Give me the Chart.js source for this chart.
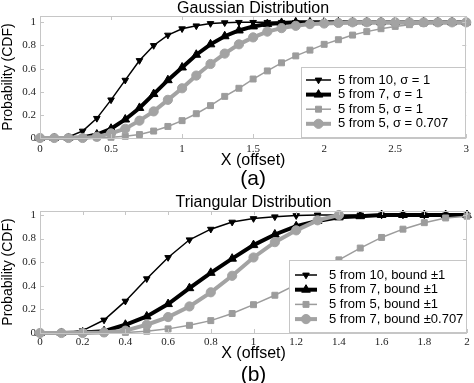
<!DOCTYPE html>
<html><head><meta charset="utf-8">
<script src="https://cdn.jsdelivr.net/npm/chart.js@4.4.0/dist/chart.umd.min.js"></script>
<style>
html,body{margin:0;padding:0;background:#fff;overflow:hidden;width:474px;height:383px;}
#wa{position:absolute;left:0;top:0;width:474px;height:190px;}
#wb{position:absolute;left:0;top:190px;width:474px;height:196px;}
</style></head><body>
<div id="wa"><canvas id="ca"></canvas></div>
<div id="wb"><canvas id="cb"></canvas></div>
<script>
// ---------- Data: (a) Gaussian ----------
const gaussX = [0,0.1,0.2,0.3,0.4,0.5,0.6,0.7,0.8,0.9,1.0,1.1,1.2,1.3,1.4,1.5,1.6,1.7,1.8,1.9,2.0,2.1,2.2,2.3,2.4,2.5,2.6,2.7,2.8,2.9,3.0];
const gauss10of = [0,0,0.01,0.06,0.17,0.33,0.50,0.67,0.80,0.89,0.945,0.97,0.99,0.997,1,1,1,1,1,1,1,1,1,1,1,1,1,1,1,1,1];
const gauss7of  = [0,0,0,0.005,0.03,0.08,0.16,0.26,0.38,0.50,0.61,0.72,0.81,0.88,0.93,0.965,0.985,0.995,1,1,1,1,1,1,1,1,1,1,1,1,1];
const gauss5of  = [0,0,0,0,0.003,0.006,0.015,0.03,0.06,0.10,0.15,0.21,0.28,0.36,0.43,0.51,0.58,0.65,0.71,0.76,0.81,0.85,0.89,0.92,0.945,0.965,0.98,0.99,0.995,1,1];
const gauss5ofB = [0,0,0,0,0.01,0.04,0.08,0.15,0.23,0.33,0.43,0.54,0.64,0.73,0.81,0.87,0.92,0.95,0.97,0.985,0.99,0.995,1,1,1,1,1,1,1,1,1];
const gaussLabels = ['5 from 10, \u03c3 = 1','5 from 7, \u03c3 = 1','5 from 5, \u03c3 = 1','5 from 5, \u03c3 = 0.707'];
const gaussXTicks = [0,0.5,1,1.5,2,2.5,3];
const gaussXTickLabels = ['0','0.5','1','1.5','2','2.5','3'];

// ---------- Data: (b) Triangular ----------
const triX = [0,0.1,0.2,0.3,0.4,0.5,0.6,0.7,0.8,0.9,1.0,1.1,1.2,1.3,1.4,1.5,1.6,1.7,1.8,1.9,2.0];
const tri10of = [0,0,0.02,0.11,0.27,0.46,0.64,0.79,0.88,0.94,0.97,0.985,0.995,1,1,1,1,1,1,1,1];
const tri7of  = [0,0,0.005,0.015,0.07,0.14,0.245,0.38,0.51,0.63,0.745,0.835,0.905,0.95,0.98,0.99,1,1,1,1,1];
const tri5of  = [0,0,0,0,0.005,0.015,0.035,0.065,0.105,0.165,0.24,0.32,0.41,0.52,0.62,0.72,0.81,0.88,0.935,0.975,0.99];
const tri7ofB = [0,0,0,0.005,0.02,0.07,0.135,0.225,0.345,0.485,0.64,0.77,0.87,0.955,1,null,null,null,null,null,null];
const triLabels = ['5 from 10, bound \u00b11','5 from 7, bound \u00b11','5 from 5, bound \u00b11','5 from 7, bound \u00b10.707'];
const triXTicks = [0,0.2,0.4,0.6,0.8,1,1.2,1.4,1.6,1.8,2];
const triXTickLabels = ['0','0.2','0.4','0.6','0.8','1','1.2','1.4','1.6','1.8','2'];

const yTicks = [0,0.2,0.4,0.6,0.8,1];
const yTickLabels = ['0','0.2','0.4','0.6','0.8','1'];

const GRAY1 = '#9c9c9c', GRAY2 = '#a3a3a3', FRAME = '#c6c6c6';
const SANS = '"Liberation Sans", Arial, sans-serif';
const SERIF = '"Liberation Serif", "Times New Roman", serif';

function pts(xs, ys){ return xs.map((x,i)=>({x:x, y:ys[i]})); }

function makeDatasets(xs, s1, s2, s3, s4, labels){
  return [
    {label:labels[0], data:pts(xs,s1), borderColor:'#000', backgroundColor:'#000', pointBackgroundColor:'#000', pointBorderColor:'#000',
     borderWidth:1.5, pointStyle:'triangle', pointRotation:180, pointRadius:3.8, pointBorderWidth:1, order:3},
    {label:labels[1], data:pts(xs,s2), borderColor:'#000', backgroundColor:'#000', pointBackgroundColor:'#000', pointBorderColor:'#000',
     borderWidth:4, pointStyle:'triangle', pointRotation:0, pointRadius:5, pointBorderWidth:1, order:2},
    {label:labels[2], data:pts(xs,s3), borderColor:GRAY1, backgroundColor:GRAY1, pointBackgroundColor:GRAY1, pointBorderColor:GRAY1,
     borderWidth:1.5, pointStyle:'rect', pointRadius:4.2, pointBorderWidth:1, order:1},
    {label:labels[3], data:pts(xs,s4), borderColor:GRAY2, backgroundColor:GRAY2, pointBackgroundColor:GRAY2, pointBorderColor:GRAY2,
     borderWidth:4, pointStyle:'circle', pointRadius:4.6, pointBorderWidth:1, order:0}
  ];
}

const frameLegend = {
  id:'frameLegend',
  afterDatasetsDraw(chart, args, L){
    const ctx = chart.ctx, a = chart.chartArea, sx = chart.scales.x, sy = chart.scales.y;
    ctx.save();
    ctx.strokeStyle = FRAME; ctx.lineWidth = 1;
    ctx.strokeRect(Math.round(a.left)+0.5, Math.round(a.top)+0.5, Math.round(a.right-a.left)-1, Math.round(a.bottom-a.top));
    ctx.beginPath();
    sx.ticks.forEach(t=>{ const p = Math.round(sx.getPixelForValue(t.value))+0.5;
      ctx.moveTo(p,a.bottom); ctx.lineTo(p,a.bottom-4); ctx.moveTo(p,a.top); ctx.lineTo(p,a.top+4); });
    sy.ticks.forEach(t=>{ const p = Math.round(sy.getPixelForValue(t.value))+0.5;
      ctx.moveTo(a.left,p); ctx.lineTo(a.left+4,p); ctx.moveTo(a.right,p); ctx.lineTo(a.right-4,p); });
    ctx.stroke();
    // legend box
    const x0 = Math.round(a.right - L.width), y0 = Math.round(a.bottom - L.height);
    ctx.fillStyle = '#fff'; ctx.fillRect(x0, y0, L.width, L.height);
    ctx.strokeStyle = FRAME; ctx.lineWidth = 1;
    ctx.strokeRect(x0+0.5, y0+0.5, L.width-1, L.height-1);
    chart.data.datasets.forEach((ds,i)=>{
      const y = y0 + L.firstRow + i*L.rowGap;
      ctx.strokeStyle = ds.borderColor; ctx.lineWidth = ds.borderWidth;
      ctx.beginPath(); ctx.moveTo(x0+L.sx0, y); ctx.lineTo(x0+L.sx1, y); ctx.stroke();
      ctx.fillStyle = ds.pointBackgroundColor; ctx.strokeStyle = ds.pointBorderColor; ctx.lineWidth = 1;
      Chart.helpers.drawPoint(ctx, {pointStyle:ds.pointStyle, radius:ds.pointRadius, rotation:ds.pointRotation||0, borderWidth:1}, x0+(L.sx0+L.sx1)/2, y);
      ctx.fillStyle = '#000'; ctx.font = '13px ' + SANS; ctx.textBaseline = 'middle'; ctx.textAlign = 'left';
      ctx.fillText(ds.label, x0+L.tx, y);
    });
    ctx.restore();
  }
};

function makeChart(id, cfg){
  return new Chart(document.getElementById(id), {
    type:'line',
    data:{datasets: makeDatasets(cfg.xs, cfg.s[0], cfg.s[1], cfg.s[2], cfg.s[3], cfg.labels)},
    plugins:[frameLegend],
    options:{
      responsive:true, maintainAspectRatio:false, animation:false, devicePixelRatio:1,
      layout:{padding:{left:0, right:7, top:0, bottom:0}},
      datasets:{line:{clip:false, tension:0, spanGaps:false, fill:false}},
      plugins:{
        legend:{display:false}, tooltip:{enabled:false},
        title:{display:true, text:cfg.title, fullSize:false, color:'#000',
               font:{family:SANS, size:16, weight:'normal', lineHeight:cfg.titleLH}, padding:cfg.titlePad},
        subtitle:{display:true, text:cfg.sub, position:'bottom', fullSize:false, color:'#000',
               font:{family:SANS, size:21, weight:'normal', lineHeight:1}, padding:0},
        frameLegend: cfg.legend
      },
      scales:{
        x:{type:'linear', min:cfg.xmin, max:cfg.xmax,
           afterBuildTicks:s=>{ s.ticks = cfg.xTicks.map(v=>({value:v})); },
           afterFit:s=>{ s.height = cfg.xAxisH; },
           grid:{display:false, drawTicks:false}, border:{display:false},
           ticks:{callback:(v,i)=>cfg.xTickLabels[i], font:{family:SERIF, size:11}, color:'#222', padding:cfg.xTickPad, maxRotation:0, autoSkip:false},
           title:{display:true, text:'X (offset)', color:'#000', font:{family:SANS, size:16, lineHeight:1}, padding:{top:0, bottom:cfg.xTitleBottom}}},
        y:{type:'linear', min:0, max:cfg.ymax,
           afterBuildTicks:s=>{ s.ticks = yTicks.map(v=>({value:v})); },
           afterFit:s=>{ s.width = 40; },
           grid:{display:false, drawTicks:false}, border:{display:false},
           ticks:{callback:(v,i)=>yTickLabels[i], font:{family:SERIF, size:11}, color:'#222', padding:4, autoSkip:false},
           title:{display:true, text:'Probability (CDF)', color:'#000', font:{family:SANS, size:14, lineHeight:1}, padding:{top:1.5, bottom:0}}}
      }
    }
  });
}

makeChart('ca', {xs:gaussX, s:[gauss10of,gauss7of,gauss5of,gauss5ofB], labels:gaussLabels,
  title:'Gaussian Distribution', titleLH:0.9375, titlePad:{top:1,bottom:0}, sub:'(a)',
  xmin:0, xmax:3, xTicks:gaussXTicks, xTickLabels:gaussXTickLabels, xAxisH:31, xTickPad:5, xTitleBottom:0, ymax:1.055,
  legend:{width:165, height:71, firstRow:13, rowGap:14.6, sx0:5, sx1:30, tx:37}});

makeChart('cb', {xs:triX, s:[tri10of,tri7of,tri5of,tri7ofB], labels:triLabels,
  title:'Triangular Distribution', titleLH:1, titlePad:{top:5,bottom:0}, sub:'(b)',
  xmin:0, xmax:2, xTicks:triXTicks, xTickLabels:triXTickLabels, xAxisH:32, xTickPad:3, xTitleBottom:3, ymax:1.034,
  legend:{width:178, height:73, firstRow:15, rowGap:14.7, sx0:6, sx1:28, tx:40}});
</script>
</body></html>
